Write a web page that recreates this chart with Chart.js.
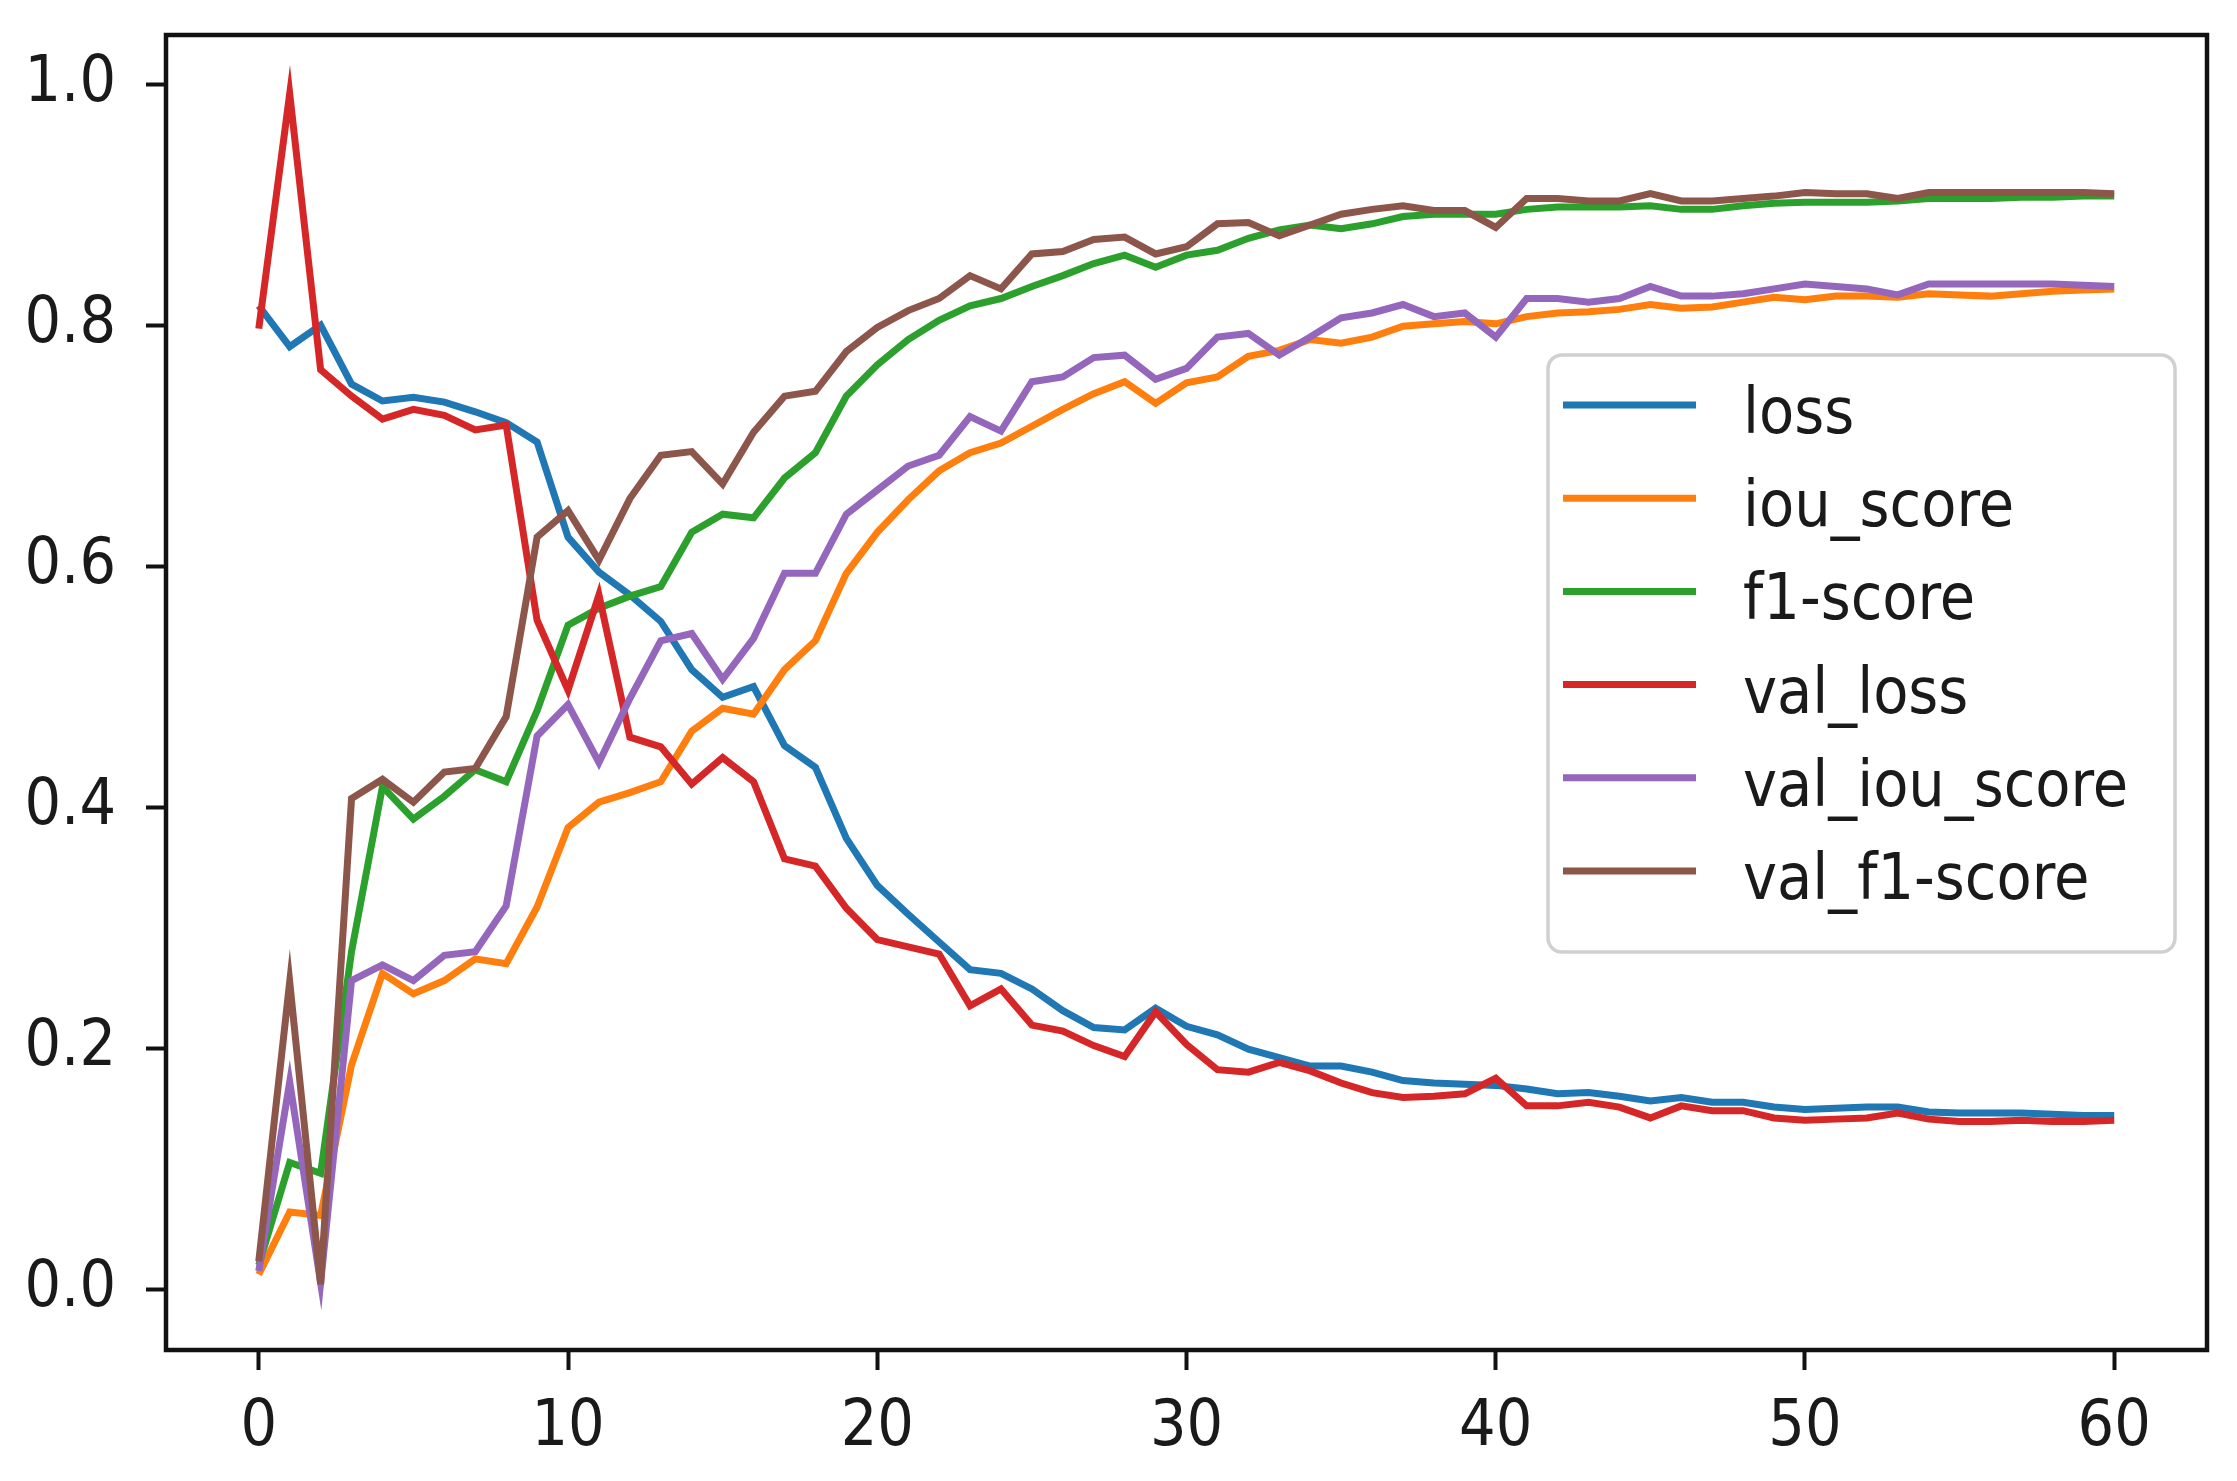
<!DOCTYPE html>
<html>
<head>
<meta charset="utf-8">
<title>Training history</title>
<script src="https://cdn.jsdelivr.net/npm/chart.js@4.4.1/dist/chart.umd.min.js"></script>
<style>
  html, body { margin: 0; padding: 0; background: #fff; }
  #wrap { width: 2237px; height: 1481px; }
</style>
</head>
<body>
<div id="wrap"><canvas id="chart" width="2237" height="1481"></canvas></div>
<script>
const epochs = [0, 1, 2, 3, 4, 5, 6, 7, 8, 9, 10, 11, 12, 13, 14, 15, 16, 17, 18, 19, 20,
  21, 22, 23, 24, 25, 26, 27, 28, 29, 30, 31, 32, 33, 34, 35, 36, 37, 38, 39, 40,
  41, 42, 43, 44, 45, 46, 47, 48, 49, 50, 51, 52, 53, 54, 55, 56, 57, 58, 59, 60];

const loss = [0.816, 0.782, 0.800, 0.751, 0.737, 0.740, 0.736, 0.728, 0.719, 0.703, 0.624,
  0.595, 0.576, 0.554, 0.514, 0.491, 0.500, 0.451, 0.433, 0.374, 0.335,
  0.311, 0.288, 0.265, 0.262, 0.249, 0.231, 0.217, 0.215, 0.233, 0.218,
  0.211, 0.199, 0.192, 0.185, 0.185, 0.180, 0.173, 0.171, 0.170, 0.169,
  0.166, 0.162, 0.163, 0.160, 0.156, 0.159, 0.155, 0.155, 0.151, 0.149,
  0.150, 0.151, 0.151, 0.147, 0.146, 0.146, 0.146, 0.145, 0.144, 0.144];

const iouScore = [0.012, 0.064, 0.061, 0.186, 0.262, 0.245, 0.256, 0.274, 0.270, 0.317, 0.383,
  0.404, 0.412, 0.421, 0.463, 0.482, 0.477, 0.514, 0.538, 0.594, 0.628,
  0.655, 0.679, 0.694, 0.702, 0.716, 0.730, 0.743, 0.753, 0.735, 0.752,
  0.757, 0.774, 0.779, 0.788, 0.785, 0.790, 0.799, 0.801, 0.803, 0.801,
  0.807, 0.810, 0.811, 0.813, 0.817, 0.814, 0.815, 0.819, 0.823, 0.821,
  0.824, 0.824, 0.823, 0.826, 0.825, 0.824, 0.826, 0.828, 0.829, 0.830];

const f1Score = [0.020, 0.105, 0.096, 0.280, 0.417, 0.390, 0.409, 0.431, 0.421, 0.480, 0.551,
  0.565, 0.575, 0.583, 0.628, 0.643, 0.640, 0.673, 0.694, 0.741, 0.767,
  0.788, 0.804, 0.816, 0.822, 0.832, 0.841, 0.851, 0.858, 0.848, 0.858,
  0.862, 0.872, 0.879, 0.883, 0.880, 0.884, 0.890, 0.892, 0.892, 0.892,
  0.896, 0.898, 0.898, 0.898, 0.899, 0.896, 0.896, 0.899, 0.901, 0.902,
  0.902, 0.902, 0.903, 0.905, 0.905, 0.905, 0.906, 0.906, 0.907, 0.907];

const valLoss = [0.797, 0.992, 0.763, 0.741, 0.722, 0.730, 0.725, 0.713, 0.717, 0.555, 0.497,
  0.576, 0.458, 0.450, 0.419, 0.441, 0.421, 0.357, 0.351, 0.316, 0.290,
  0.284, 0.278, 0.235, 0.249, 0.219, 0.214, 0.202, 0.193, 0.230, 0.203,
  0.182, 0.180, 0.188, 0.181, 0.171, 0.163, 0.159, 0.160, 0.162, 0.175,
  0.152, 0.152, 0.155, 0.151, 0.142, 0.152, 0.148, 0.148, 0.142, 0.140,
  0.141, 0.142, 0.146, 0.141, 0.139, 0.139, 0.140, 0.139, 0.139, 0.140];

const valIouScore = [0.015, 0.172, 0.005, 0.256, 0.269, 0.256, 0.277, 0.280, 0.318, 0.459, 0.485,
  0.437, 0.490, 0.538, 0.544, 0.506, 0.540, 0.594, 0.594, 0.643, 0.663,
  0.683, 0.692, 0.724, 0.712, 0.753, 0.757, 0.773, 0.775, 0.755, 0.764,
  0.790, 0.793, 0.775, 0.790, 0.806, 0.810, 0.817, 0.807, 0.810, 0.790,
  0.822, 0.822, 0.819, 0.822, 0.832, 0.824, 0.824, 0.826, 0.830, 0.834,
  0.832, 0.830, 0.825, 0.834, 0.834, 0.834, 0.834, 0.834, 0.833, 0.832];

const valF1Score = [0.023, 0.255, 0.004, 0.407, 0.423, 0.404, 0.429, 0.432, 0.475, 0.624, 0.646,
  0.605, 0.656, 0.692, 0.695, 0.668, 0.711, 0.741, 0.745, 0.778, 0.798,
  0.812, 0.822, 0.841, 0.830, 0.859, 0.861, 0.871, 0.873, 0.859, 0.865,
  0.884, 0.885, 0.874, 0.883, 0.892, 0.896, 0.899, 0.895, 0.895, 0.881,
  0.905, 0.905, 0.903, 0.903, 0.909, 0.903, 0.903, 0.905, 0.907, 0.910,
  0.909, 0.909, 0.905, 0.910, 0.910, 0.910, 0.910, 0.910, 0.910, 0.909];

const seriesNames = ["loss", "iou_score", "f1-score", "val_loss", "val_iou_score", "val_f1-score"];
const seriesValues = [loss, iouScore, f1Score, valLoss, valIouScore, valF1Score];
const seriesColors = ["#1f77b4", "#ff7f0e", "#2ca02c", "#d62728", "#9467bd", "#8c564b"];

const xTicks = [0, 10, 20, 30, 40, 50, 60];
const yTicks = [0.0, 0.2, 0.4, 0.6, 0.8, 1.0];

const FONT = '"DejaVu Sans Condensed", "DejaVu Sans", sans-serif';
const TEXT = "#1a1a1a";

// black box round the plot, drawn over the lines like matplotlib spines
const framePlugin = {
  id: "frame",
  afterDatasetsDraw(chart) {
    const { ctx, chartArea: a } = chart;
    ctx.save();
    ctx.strokeStyle = "#111";
    ctx.lineWidth = 4.5;
    ctx.strokeRect(a.left, a.top, a.right - a.left, a.bottom - a.top);
    ctx.restore();
  },
};

// legend box inside the plot, right side
const legendPlugin = {
  id: "boxLegend",
  afterDraw(chart) {
    const ctx = chart.ctx;
    const box = { x: 1548, y: 355, w: 627, h: 597 };
    ctx.save();
    ctx.beginPath();
    ctx.roundRect(box.x, box.y, box.w, box.h, 14);
    ctx.fillStyle = "rgba(255,255,255,0.8)";
    ctx.fill();
    ctx.lineWidth = 3.5;
    ctx.strokeStyle = "#d0d0d0";
    ctx.stroke();

    ctx.font = "64px " + FONT;
    ctx.textBaseline = "alphabetic";
    ctx.textAlign = "left";
    chart.data.datasets.forEach((ds, i) => {
      const y = box.y + 50 + i * 93.2;
      ctx.beginPath();
      ctx.moveTo(1563, y);
      ctx.lineTo(1696, y);
      ctx.strokeStyle = ds.borderColor;
      ctx.lineWidth = 7;
      ctx.lineCap = "butt";
      ctx.stroke();
      ctx.fillStyle = TEXT;
      ctx.fillText(ds.label, 1743, y + 28);
    });
    ctx.restore();
  },
};

const datasets = seriesNames.map((name, i) => ({
  label: name,
  data: seriesValues[i].map((v, j) => ({ x: epochs[j], y: v })),
  borderColor: seriesColors[i],
  backgroundColor: seriesColors[i],
  borderWidth: 7,
  pointRadius: 0,
  tension: 0,
  fill: false,
  order: seriesNames.length - i,
}));

const ctx = document.getElementById("chart").getContext("2d");
new Chart(ctx, {
  type: "line",
  data: { datasets },
  plugins: [framePlugin, legendPlugin],
  options: {
    responsive: false,
    devicePixelRatio: 1,
    animation: false,
    layout: { padding: { top: 35, right: 30, left: 0, bottom: 0 } },
    plugins: {
      legend: { display: false },
      tooltip: { enabled: false },
    },
    scales: {
      x: {
        type: "linear",
        min: -3,
        max: 63,
        afterBuildTicks: (scale) => {
          scale.ticks = xTicks.map((v) => ({ value: v }));
        },
        afterFit: (scale) => {
          scale.height = 131;
          scale.paddingLeft = 0;
          scale.paddingRight = 0;
        },
        ticks: {
          color: TEXT,
          font: { family: FONT, size: 64 },
          padding: 20,
          maxRotation: 0,
          autoSkip: false,
          callback: (v) => String(v),
        },
        grid: {
          display: true,
          drawOnChartArea: false,
          drawTicks: true,
          tickLength: 20,
          tickWidth: 4,
          tickColor: "#111",
          color: "#111",
        },
        border: { display: false },
      },
      y: {
        type: "linear",
        min: -0.0506,
        max: 1.0407,
        afterBuildTicks: (scale) => {
          scale.ticks = yTicks.map((v) => ({ value: v }));
        },
        afterFit: (scale) => {
          scale.width = 166;
          scale.paddingTop = 0;
          scale.paddingBottom = 0;
        },
        ticks: {
          color: TEXT,
          font: { family: FONT, size: 64 },
          padding: 30,
          autoSkip: false,
          callback: (v) => v.toFixed(1),
        },
        grid: {
          display: true,
          drawOnChartArea: false,
          drawTicks: true,
          tickLength: 20,
          tickWidth: 4,
          tickColor: "#111",
          color: "#111",
        },
        border: { display: false },
      },
    },
  },
});
</script>
</body>
</html>
